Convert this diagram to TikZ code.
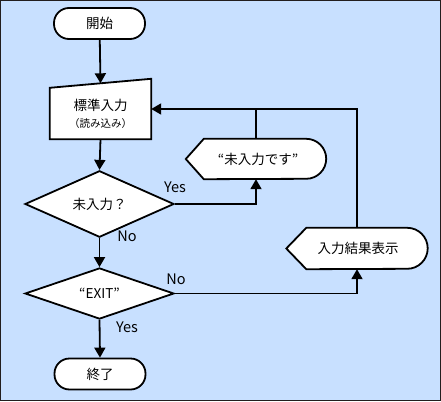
\documentclass[tikz,border=0pt]{standalone}
\usepackage{fontspec}
\setmainfont{Noto Sans CJK JP}
\usetikzlibrary{shapes.geometric,arrows.meta,calc}
\definecolor{bg}{RGB}{200,224,255}
\definecolor{frame}{RGB}{34,30,30}
\tikzset{
  ln/.style={line width=1.8pt, draw=black},
  arr/.style={ln, -{Triangle[length=10pt,width=11pt]}},
  term/.style={ln, fill=white, rectangle, rounded corners=15pt, minimum width=91pt, minimum height=31pt, inner sep=0pt, font=\fontsize{13.5}{16}\selectfont},
  dec/.style={ln, fill=white, diamond, minimum width=149pt, minimum height=48pt, inner sep=0pt, font=\fontsize{13.5}{16}\selectfont},
  boxnode/.style={rectangle, inner sep=0pt},
  shapeln/.style={ln, fill=white, line join=miter},
  txt/.style={font=\fontsize{13.5}{16}\selectfont, inner sep=0pt},
  lab/.style={font=\fontsize{14.5}{16}\selectfont, inner sep=0pt}
}
\begin{document}
\begin{tikzpicture}[x=1pt,y=-1pt]
\fill[bg] (0,0) rectangle (441,401);
\draw[frame, line width=1.2pt] (0.6,0.6) rectangle (440.4,400.4);
\useasboundingbox (0,0) rectangle (441,401);

% start
\node[term] (start) at (99.5,23.5) {開始};

% manual input
\node[boxnode, minimum width=101pt, minimum height=60pt] (inp) at (100.5,109) {};
\filldraw[shapeln] (inp.south west) -- (inp.south east) -- (inp.north east) -- ($(inp.north west)+(0,9)$) -- cycle;
\coordinate (inptop) at ($($(inp.north west)+(0,9)$)!0.5!(inp.north east)$);
\node[txt, align=center] (inptext) at (100.5,114) {標準入力\\[1pt]{\fontsize{10.5}{12}\selectfont （読み込み）}};

% decisions
\node[dec] (dia1) at (99.5,204) {未入力？};
\node[dec] (dia2) at (99.5,293.5) {“EXIT”};

% end
\node[term] (stop) at (100,374) {終了};

% displays
\node[boxnode, minimum width=140pt, minimum height=40pt] (d1) at (256,159) {};
\filldraw[shapeln] (d1.west) -- ($(d1.north west)+(18,0)$) -- ($(d1.north east)+(-20,0)$) arc[start angle=90, end angle=-90, radius=20pt] -- ($(d1.south west)+(18,0)$) -- cycle;
\node[txt] (d1text) at (258,159) {“未入力です”};

\node[boxnode, minimum width=141pt, minimum height=41pt] (d2) at (357,248.5) {};
\filldraw[shapeln] (d2.west) -- ($(d2.north west)+(20,0)$) -- ($(d2.north east)+(-20.5,0)$) arc[start angle=90, end angle=-90, radius=20.5pt] -- ($(d2.south west)+(20,0)$) -- cycle;
\node[txt] (d2text) at (358,248.5) {入力結果表示};

% connectors
\draw[arr] (start) -- (inptop);
\draw[arr] (inp.south) -- (dia1.north);
\draw[arr] (dia1.south) -- (dia2.north);
\draw[arr] (dia2.south) -- (stop.north);
\draw[arr] (dia1.east) -| (d1.south);
\draw[arr] (dia2.east) -| (d2.south);
\draw[ln] (d1.north) -- (d1.north |- inp.east);
\draw[arr] (d2.north) |- (inp.east);

% labels
\node[lab] (l1) at (175,187) {Yes};
\node[lab] (l2) at (127,236) {No};
\node[lab] (l3) at (176,279) {No};
\node[lab] (l4) at (127,327) {Yes};
\end{tikzpicture}
\end{document}
